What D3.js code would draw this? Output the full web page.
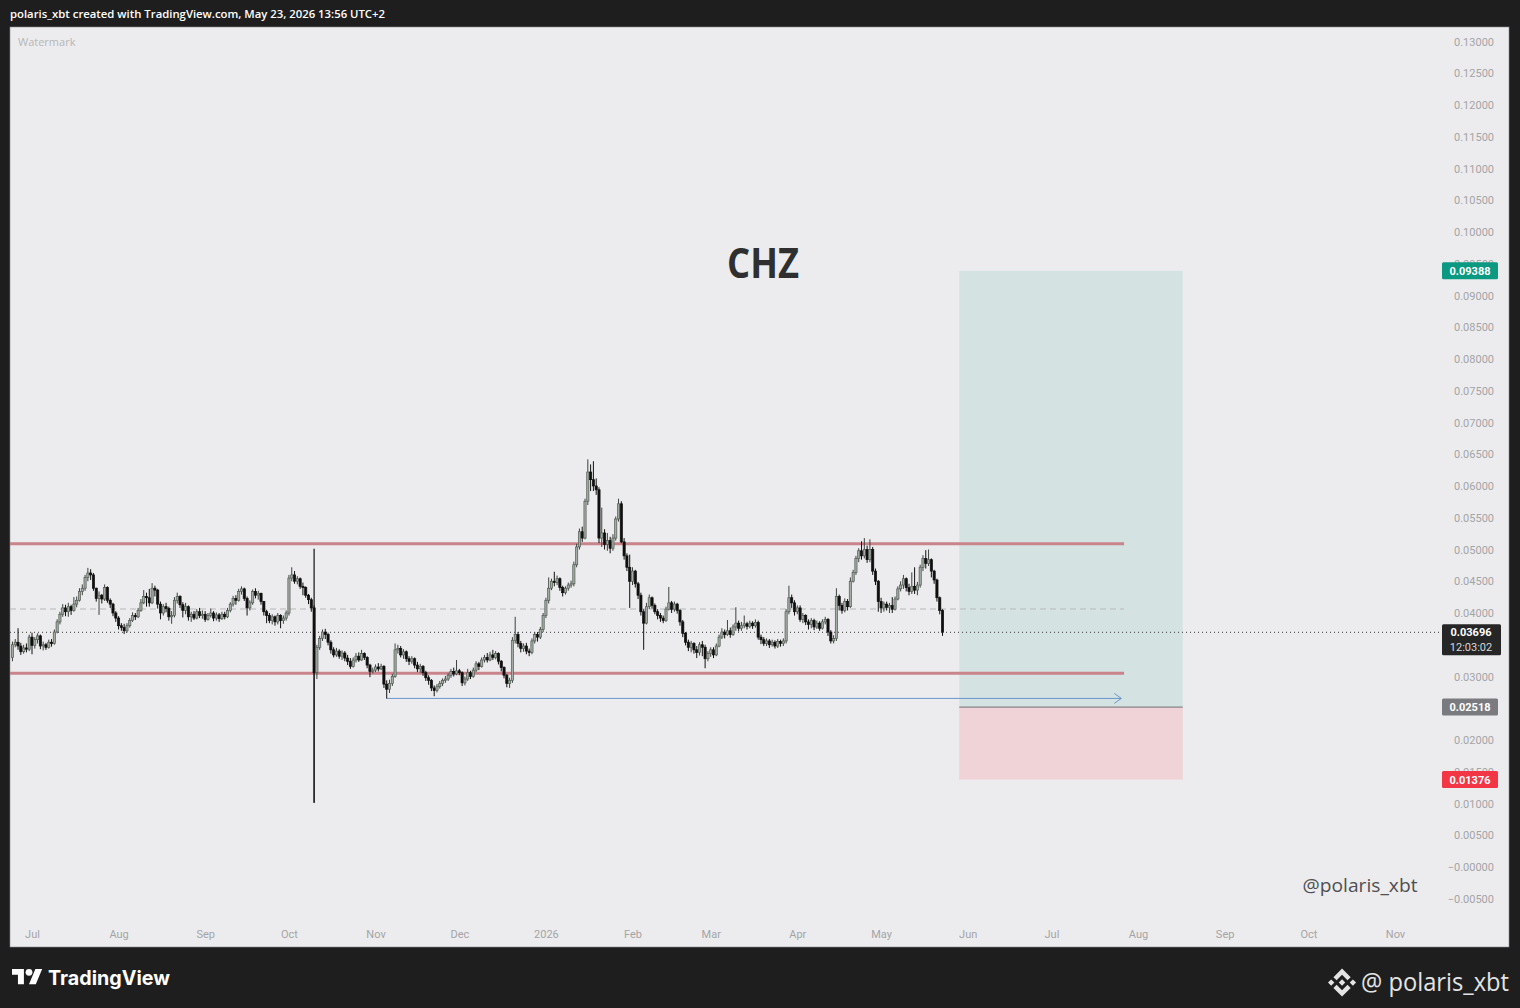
<!DOCTYPE html>
<html>
<head>
<meta charset="utf-8">
<script src="https://cdn.jsdelivr.net/npm/d3@7"></script>
<style>
  body { margin: 0; background: #1e1e1e; }
  svg { display: block; }
</style>
</head>
<body>
<div id="chart"></div>
<script>
// ---- data ----
const firstDay = "2025-06-24";
const firstOpen = 0.0330;

// daily closes, Jun 24 2025 .. May 23 2026
const closes = [
  0.0350,0.0354,0.0348,0.0339,0.0345,0.0343,0.0362,0.0349,0.0358,0.0364,
  0.0348,0.0350,0.0346,0.0354,0.0352,0.0370,0.0386,0.0398,0.0408,0.0402,
  0.0410,0.0404,0.0414,0.0420,0.0434,0.0439,0.0456,0.0463,0.0460,0.0439,
  0.0423,0.0428,0.0422,0.0440,0.0420,0.0414,0.0400,0.0392,0.0380,0.0377,
  0.0372,0.0380,0.0388,0.0396,0.0394,0.0404,0.0416,0.0426,0.0424,0.0416,
  0.0439,0.0436,0.0414,0.0400,0.0410,0.0407,0.0394,0.0396,0.0420,0.0426,
  0.0413,0.0404,0.0410,0.0394,0.0398,0.0392,0.0402,0.0396,0.0398,0.0390,
  0.0396,0.0400,0.0392,0.0397,0.0391,0.0398,0.0394,0.0404,0.0414,0.0423,
  0.0420,0.0434,0.0438,0.0423,0.0408,0.0416,0.0434,0.0428,0.0431,0.0418,
  0.0402,0.0396,0.0388,0.0394,0.0386,0.0396,0.0388,0.0392,0.0400,0.0455,
  0.0460,0.0450,0.0454,0.0442,0.0440,0.0428,0.0421,0.0408,0.0306,0.0346,
  0.0360,0.0370,0.0366,0.0354,0.0342,0.0334,0.0340,0.0332,0.0337,0.0329,
  0.0324,0.0316,0.0326,0.0332,0.0326,0.0336,0.0330,0.0318,0.0308,0.0310,
  0.0315,0.0312,0.0316,0.0288,0.0280,0.0289,0.0300,0.0342,0.0344,0.0334,
  0.0339,0.0328,0.0324,0.0328,0.0318,0.0312,0.0316,0.0306,0.0298,0.0294,
  0.0282,0.0278,0.0284,0.0289,0.0294,0.0296,0.0302,0.0308,0.0304,0.0309,
  0.0306,0.0290,0.0296,0.0306,0.0300,0.0310,0.0320,0.0316,0.0326,0.0330,
  0.0326,0.0334,0.0330,0.0336,0.0324,0.0314,0.0302,0.0289,0.0294,0.0357,
  0.0366,0.0352,0.0344,0.0348,0.0340,0.0338,0.0356,0.0366,0.0362,0.0374,
  0.0396,0.0420,0.0439,0.0450,0.0448,0.0454,0.0440,0.0432,0.0439,0.0444,
  0.0446,0.0476,0.0504,0.0528,0.0518,0.0576,0.0622,0.0610,0.0600,0.0594,
  0.0518,0.0526,0.0508,0.0514,0.0502,0.0518,0.0548,0.0572,0.0512,0.0490,
  0.0472,0.0450,0.0466,0.0446,0.0428,0.0402,0.0384,0.0410,0.0424,0.0412,
  0.0402,0.0396,0.0392,0.0388,0.0406,0.0416,0.0406,0.0414,0.0404,0.0386,
  0.0368,0.0354,0.0346,0.0352,0.0342,0.0338,0.0350,0.0346,0.0328,0.0336,
  0.0342,0.0334,0.0348,0.0362,0.0370,0.0366,0.0372,0.0366,0.0378,0.0384,
  0.0376,0.0380,0.0383,0.0379,0.0384,0.0380,0.0385,0.0362,0.0358,0.0352,
  0.0356,0.0350,0.0354,0.0348,0.0355,0.0352,0.0356,0.0402,0.0424,0.0416,
  0.0402,0.0408,0.0390,0.0396,0.0386,0.0382,0.0388,0.0378,0.0384,0.0376,
  0.0386,0.0390,0.0370,0.0356,0.0360,0.0426,0.0412,0.0404,0.0418,0.0410,
  0.0450,0.0464,0.0486,0.0498,0.0490,0.0500,0.0484,0.0500,0.0466,0.0450,
  0.0418,0.0408,0.0414,0.0409,0.0412,0.0406,0.0422,0.0438,0.0444,0.0454,
  0.0440,0.0434,0.0442,0.0436,0.0444,0.0472,0.0486,0.0478,0.0484,0.0466,
  0.0452,0.0424,0.0404,0.03696
];

const highs = [
  0.0355,0.0359,0.0376,0.0353,0.0350,0.0352,0.0366,0.0369,0.0362,0.0368,
  0.0366,0.0355,0.0353,0.0358,0.0359,0.0374,0.0390,0.0402,0.0414,0.0413,
  0.0416,0.0413,0.0425,0.0426,0.0439,0.0445,0.0460,0.0471,0.0469,0.0463,
  0.0440,0.0434,0.0430,0.0445,0.0442,0.0423,0.0416,0.0403,0.0395,0.0384,
  0.0383,0.0384,0.0392,0.0401,0.0400,0.0408,0.0422,0.0436,0.0432,0.0438,
  0.0447,0.0443,0.0438,0.0418,0.0414,0.0416,0.0410,0.0403,0.0425,0.0432,
  0.0428,0.0417,0.0416,0.0412,0.0402,0.0403,0.0406,0.0408,0.0404,0.0403,
  0.0400,0.0407,0.0403,0.0401,0.0400,0.0402,0.0402,0.0408,0.0417,0.0427,
  0.0428,0.0438,0.0442,0.0440,0.0426,0.0420,0.0437,0.0439,0.0435,0.0432,
  0.0419,0.0405,0.0400,0.0398,0.0396,0.0400,0.0398,0.0396,0.0404,0.0460,
  0.0472,0.0466,0.0458,0.0456,0.0448,0.0442,0.0430,0.0424,0.0412,0.0350,
  0.0364,0.0374,0.0375,0.0369,0.0357,0.0346,0.0345,0.0343,0.0341,0.0340,
  0.0334,0.0329,0.0330,0.0337,0.0338,0.0342,0.0338,0.0332,0.0320,0.0314,
  0.0319,0.0321,0.0320,0.0318,0.0294,0.0295,0.0304,0.0352,0.0350,0.0348,
  0.0343,0.0341,0.0332,0.0332,0.0330,0.0323,0.0320,0.0318,0.0309,0.0302,
  0.0296,0.0286,0.0288,0.0293,0.0297,0.0301,0.0305,0.0312,0.0314,0.0326,
  0.0312,0.0308,0.0300,0.0312,0.0309,0.0314,0.0324,0.0323,0.0330,0.0334,
  0.0337,0.0339,0.0342,0.0340,0.0338,0.0326,0.0316,0.0304,0.0298,0.0362,
  0.0394,0.0370,0.0356,0.0352,0.0353,0.0344,0.0360,0.0370,0.0370,0.0378,
  0.0400,0.0424,0.0456,0.0454,0.0465,0.0459,0.0456,0.0443,0.0442,0.0448,
  0.0451,0.0481,0.0509,0.0533,0.0536,0.0580,0.0642,0.0634,0.0639,0.0612,
  0.0598,0.0566,0.0532,0.0526,0.0520,0.0524,0.0552,0.0580,0.0576,0.0518,
  0.0494,0.0492,0.0472,0.0468,0.0449,0.0432,0.0406,0.0416,0.0429,0.0426,
  0.0415,0.0406,0.0400,0.0396,0.0410,0.0441,0.0419,0.0418,0.0416,0.0406,
  0.0389,0.0370,0.0358,0.0356,0.0354,0.0348,0.0354,0.0356,0.0350,0.0340,
  0.0346,0.0346,0.0352,0.0366,0.0376,0.0374,0.0389,0.0377,0.0382,0.0409,
  0.0388,0.0386,0.0396,0.0386,0.0388,0.0387,0.0390,0.0388,0.0366,0.0362,
  0.0360,0.0359,0.0358,0.0357,0.0359,0.0358,0.0360,0.0406,0.0443,0.0429,
  0.0420,0.0412,0.0412,0.0400,0.0398,0.0390,0.0392,0.0391,0.0388,0.0387,
  0.0390,0.0394,0.0392,0.0373,0.0365,0.0439,0.0429,0.0416,0.0423,0.0422,
  0.0456,0.0468,0.0490,0.0502,0.0513,0.0518,0.0506,0.0516,0.0504,0.0470,
  0.0452,0.0424,0.0418,0.0418,0.0416,0.0425,0.0426,0.0442,0.0450,0.0460,
  0.0456,0.0446,0.0464,0.0472,0.0449,0.0476,0.0491,0.0499,0.0500,0.0486,
  0.0468,0.0454,0.0426,0.0406
];

const lows = [
  0.0324,0.0346,0.0342,0.0334,0.0336,0.0338,0.0340,0.0335,0.0344,0.0352,
  0.0343,0.0341,0.0342,0.0344,0.0347,0.0350,0.0368,0.0382,0.0394,0.0395,
  0.0394,0.0397,0.0402,0.0409,0.0418,0.0428,0.0435,0.0450,0.0452,0.0435,
  0.0418,0.0397,0.0415,0.0419,0.0416,0.0408,0.0395,0.0386,0.0374,0.0372,
  0.0367,0.0369,0.0377,0.0386,0.0389,0.0392,0.0402,0.0414,0.0410,0.0410,
  0.0414,0.0426,0.0407,0.0390,0.0396,0.0401,0.0388,0.0383,0.0393,0.0415,
  0.0408,0.0393,0.0398,0.0388,0.0386,0.0389,0.0390,0.0392,0.0391,0.0386,
  0.0388,0.0393,0.0387,0.0388,0.0386,0.0389,0.0390,0.0392,0.0401,0.0410,
  0.0413,0.0418,0.0429,0.0419,0.0396,0.0404,0.0413,0.0423,0.0421,0.0413,
  0.0396,0.0384,0.0384,0.0382,0.0380,0.0382,0.0376,0.0383,0.0388,0.0396,
  0.0450,0.0446,0.0445,0.0438,0.0428,0.0424,0.0414,0.0402,0.0101,0.0296,
  0.0342,0.0356,0.0359,0.0349,0.0336,0.0330,0.0331,0.0328,0.0326,0.0324,
  0.0318,0.0312,0.0314,0.0322,0.0323,0.0325,0.0326,0.0313,0.0299,0.0305,
  0.0307,0.0308,0.0310,0.0282,0.0265,0.0274,0.0285,0.0298,0.0336,0.0330,
  0.0328,0.0323,0.0318,0.0320,0.0313,0.0307,0.0306,0.0301,0.0293,0.0287,
  0.0277,0.0269,0.0275,0.0281,0.0285,0.0290,0.0293,0.0298,0.0300,0.0302,
  0.0302,0.0285,0.0286,0.0293,0.0296,0.0298,0.0307,0.0310,0.0314,0.0322,
  0.0322,0.0324,0.0326,0.0327,0.0319,0.0308,0.0297,0.0283,0.0282,0.0290,
  0.0352,0.0346,0.0338,0.0339,0.0335,0.0332,0.0335,0.0352,0.0355,0.0359,
  0.0370,0.0392,0.0415,0.0436,0.0442,0.0444,0.0435,0.0426,0.0429,0.0435,
  0.0440,0.0442,0.0472,0.0500,0.0512,0.0516,0.0570,0.0592,0.0592,0.0586,
  0.0510,0.0504,0.0500,0.0498,0.0494,0.0498,0.0514,0.0544,0.0510,0.0484,
  0.0466,0.0408,0.0444,0.0440,0.0422,0.0396,0.0342,0.0382,0.0406,0.0407,
  0.0398,0.0390,0.0386,0.0384,0.0386,0.0404,0.0400,0.0402,0.0399,0.0380,
  0.0362,0.0349,0.0340,0.0338,0.0336,0.0329,0.0333,0.0332,0.0313,0.0324,
  0.0331,0.0329,0.0332,0.0346,0.0359,0.0360,0.0364,0.0361,0.0364,0.0372,
  0.0371,0.0372,0.0376,0.0374,0.0376,0.0375,0.0377,0.0358,0.0351,0.0348,
  0.0348,0.0345,0.0347,0.0344,0.0345,0.0347,0.0348,0.0352,0.0398,0.0408,
  0.0396,0.0398,0.0386,0.0384,0.0381,0.0374,0.0376,0.0373,0.0375,0.0372,
  0.0374,0.0382,0.0364,0.0352,0.0352,0.0356,0.0404,0.0399,0.0401,0.0404,
  0.0408,0.0448,0.0460,0.0480,0.0484,0.0486,0.0479,0.0480,0.0460,0.0444,
  0.0402,0.0400,0.0402,0.0404,0.0400,0.0400,0.0404,0.0420,0.0434,0.0438,
  0.0434,0.0428,0.0430,0.0430,0.0428,0.0440,0.0466,0.0470,0.0474,0.0456,
  0.0446,0.0418,0.0398,0.0364
];

const yTicks = [-0.005, 0, 0.005, 0.010, 0.015, 0.020, 0.025, 0.030, 0.035, 0.040,
  0.045, 0.050, 0.055, 0.060, 0.065, 0.070, 0.075, 0.080, 0.085, 0.090, 0.095,
  0.100, 0.105, 0.110, 0.115, 0.120, 0.125, 0.130];

const monthTicks = ["2025-07-01","2025-08-01","2025-09-01","2025-10-01","2025-11-01",
  "2025-12-01","2026-01-01","2026-02-01","2026-03-01","2026-04-01","2026-05-01",
  "2026-06-01","2026-07-01","2026-08-01","2026-09-01","2026-10-01","2026-11-01"];
const monthLabels = ["Jul","Aug","Sep","Oct","Nov","Dec","2026","Feb","Mar","Apr",
  "May","Jun","Jul","Aug","Sep","Oct","Nov"];

// drawings on the chart
const rangeHigh = 0.0509;
const rangeLow = 0.0305;
const rangeMid = 0.04063;
const rangeEnd = "2026-07-27";
const lastPrice = 0.03696;
const countdown = "12:03:02";
const sweepLine = { from: "2025-11-05", to: "2026-07-26", price: 0.02655 };
const crashLine = { date: "2025-10-10", top: 0.0501, bottom: 0.0101 };
const longPos = { from: "2026-05-29", to: "2026-08-17", target: 0.09388, entry: 0.02518, stop: 0.01376 };

// ---- layout ----
const width = 1520, height = 1008;
const panel = { x: 10, y: 27, w: 1499, h: 920 };
const day = d3.utcParse("%Y-%m-%d");

const x = d3.scaleUtc()
  .domain([day("2025-07-01"), day("2026-11-01")])
  .range([32, 1395]);
const y = d3.scaleLinear().domain([0, 0.13]).range([867, 41.5]);

const candles = closes.map((c, i) => ({
  date: d3.utcDay.offset(day(firstDay), i),
  open: i === 0 ? firstOpen : closes[i - 1],
  close: c,
  high: highs[i],
  low: lows[i],
}));

const svg = d3.select("#chart").append("svg")
  .attr("width", width)
  .attr("height", height);

// header line
svg.append("text")
  .attr("x", 10).attr("y", 18)
  .attr("fill", "#ffffff")
  .style("font", "600 11.5px 'Open Sans', sans-serif")
  .attr("textLength", 375).attr("lengthAdjust", "spacingAndGlyphs")
  .text("polaris_xbt created with TradingView.com, May 23, 2026 13:56 UTC+2");

// chart panel
svg.append("rect")
  .attr("x", panel.x).attr("y", panel.y)
  .attr("width", panel.w).attr("height", panel.h)
  .attr("fill", "#ececee")
  .attr("stroke", "#8a8a8a").attr("stroke-width", 0.6);

svg.append("defs").append("clipPath").attr("id", "plot")
  .append("rect")
  .attr("x", panel.x).attr("y", panel.y)
  .attr("width", 1432).attr("height", panel.h);

const plot = svg.append("g").attr("clip-path", "url(#plot)");

svg.append("text")
  .attr("x", 18).attr("y", 46)
  .attr("fill", "#b6b6b8")
  .style("font", "11px 'Open Sans', sans-serif")
  .text("Watermark");

// long position box
const lx0 = x(day(longPos.from)), lx1 = x(day(longPos.to));
plot.append("rect")
  .attr("x", lx0).attr("y", y(longPos.target))
  .attr("width", lx1 - lx0).attr("height", y(longPos.entry) - y(longPos.target))
  .attr("fill", "#d4e3e2");
plot.append("rect")
  .attr("x", lx0).attr("y", y(longPos.entry))
  .attr("width", lx1 - lx0).attr("height", y(longPos.stop) - y(longPos.entry))
  .attr("fill", "#efd3d7");
plot.append("line")
  .attr("x1", lx0).attr("x2", lx1)
  .attr("y1", y(longPos.entry)).attr("y2", y(longPos.entry))
  .attr("stroke", "#6e6e72").attr("stroke-width", 1);

// range mid (dashed) and last price (dotted)
const xEnd = x(day(rangeEnd));
plot.append("line")
  .attr("x1", panel.x).attr("x2", xEnd)
  .attr("y1", y(rangeMid)).attr("y2", y(rangeMid))
  .attr("stroke", "#b8b8ba").attr("stroke-width", 1)
  .attr("stroke-dasharray", "6 4");
plot.append("line")
  .attr("x1", panel.x).attr("x2", 1442)
  .attr("y1", y(lastPrice)).attr("y2", y(lastPrice))
  .attr("stroke", "#3a3a3a").attr("stroke-width", 1)
  .attr("stroke-dasharray", "1 3");

// range high / low
plot.selectAll("line.range")
  .data([rangeHigh, rangeLow])
  .join("line")
  .attr("class", "range")
  .attr("x1", panel.x).attr("x2", xEnd)
  .attr("y1", (d) => y(d)).attr("y2", (d) => y(d))
  .attr("stroke", "#c9838b").attr("stroke-width", 3);

// candles
const bw = 2.2;
plot.selectAll("line.wick")
  .data(candles)
  .join("line")
  .attr("class", "wick")
  .attr("x1", (d) => x(d.date)).attr("x2", (d) => x(d.date))
  .attr("y1", (d) => y(d.high)).attr("y2", (d) => y(d.low))
  .attr("stroke", (d) => (d.close >= d.open ? "#3c423d" : "#111111"))
  .attr("stroke-width", 1);

plot.selectAll("rect.body")
  .data(candles)
  .join("rect")
  .attr("class", "body")
  .attr("x", (d) => x(d.date) - bw / 2)
  .attr("y", (d) => y(Math.max(d.open, d.close)))
  .attr("width", bw)
  .attr("height", (d) => Math.max(1, Math.abs(y(d.open) - y(d.close))))
  .attr("fill", (d) => (d.close >= d.open ? "#a3aba4" : "#0f0f0f"))
  .attr("stroke", (d) => (d.close >= d.open ? "#535c55" : "#0f0f0f"))
  .attr("stroke-width", 0.7);

// Oct 10 vertical line
plot.append("line")
  .attr("x1", x(day(crashLine.date))).attr("x2", x(day(crashLine.date)))
  .attr("y1", y(crashLine.top)).attr("y2", y(crashLine.bottom))
  .attr("stroke", "#111").attr("stroke-width", 1.2);

// sweep arrow
const sx0 = x(day(sweepLine.from)), sx1 = x(day(sweepLine.to)), sy = y(sweepLine.price);
plot.append("line")
  .attr("x1", sx0).attr("x2", sx1)
  .attr("y1", sy).attr("y2", sy)
  .attr("stroke", "#6a95cc").attr("stroke-width", 1);
plot.append("path")
  .attr("d", `M${sx1 - 7},${sy - 5}L${sx1},${sy}L${sx1 - 7},${sy + 5}`)
  .attr("fill", "none")
  .attr("stroke", "#6a95cc").attr("stroke-width", 1);

// titles
svg.append("text")
  .attr("x", 763).attr("y", 278)
  .attr("text-anchor", "middle")
  .attr("fill", "#2f2f2f")
  .style("font", "bold 41px 'Open Sans', sans-serif")
  .attr("textLength", 72).attr("lengthAdjust", "spacingAndGlyphs")
  .text("CHZ");

svg.append("text")
  .attr("x", 1360).attr("y", 892)
  .attr("text-anchor", "middle")
  .attr("fill", "#4f4f51")
  .style("font", "19px 'Open Sans', sans-serif")
  .attr("textLength", 115).attr("lengthAdjust", "spacingAndGlyphs")
  .text("@polaris_xbt");

// price tags (drawn on the axis, they hide the labels they sit on)
const tags = [
  { price: longPos.target, fill: "#0b9981", top: -8.5, h: 17 },
  { price: longPos.entry, fill: "#7a7b7e", top: -8.5, h: 17 },
  { price: longPos.stop, fill: "#f23645", top: -8.5, h: 17 },
  { price: lastPrice, fill: "#262626", top: -8, h: 31 },
];
const hidden = (t) => tags.some((g) => {
  const c = y(t) - y(g.price);
  return c > g.top + 3 && c < g.top + g.h - 3;
});

// price axis
const fmt = d3.format(".5f");
const yAxis = svg.append("g")
  .attr("transform", "translate(1494,0)")
  .call(
    d3.axisLeft(y)
      .tickValues(yTicks.filter((t) => !hidden(t)))
      .tickSize(0)
      .tickPadding(0)
      .tickFormat((d) => (d === 0 ? "\u22120.00000" : fmt(d)))
  );
yAxis.select(".domain").remove();
yAxis.selectAll("text")
  .attr("fill", "#a4a4a6")
  .style("font", "11px Roboto, sans-serif");

// time axis
const xAxis = svg.append("g")
  .attr("transform", "translate(0,930)")
  .call(
    d3.axisBottom(x)
      .tickValues(monthTicks.map(day))
      .tickSize(0)
      .tickPadding(0)
      .tickFormat((d, i) => monthLabels[i])
  );
xAxis.select(".domain").remove();
xAxis.selectAll("text")
  .attr("fill", "#a4a4a6")
  .style("font", "11px Roboto, sans-serif");

const tagG = svg.selectAll("g.tag")
  .data(tags.slice(0, 3))
  .join("g")
  .attr("class", "tag")
  .attr("transform", (d) => `translate(1442,${y(d.price)})`);
tagG.append("rect")
  .attr("x", 0).attr("y", (d) => d.top)
  .attr("width", 56).attr("height", (d) => d.h)
  .attr("rx", 1.5)
  .attr("fill", (d) => d.fill);
tagG.append("text")
  .attr("x", 28).attr("y", 4)
  .attr("text-anchor", "middle")
  .attr("fill", "#ffffff")
  .style("font", "bold 11px Roboto, sans-serif")
  .text((d) => fmt(d.price));

const lastTag = tags[3];
const lastG = svg.append("g")
  .attr("transform", `translate(1442,${y(lastPrice)})`);
lastG.append("rect")
  .attr("x", 0).attr("y", lastTag.top)
  .attr("width", 59).attr("height", lastTag.h)
  .attr("rx", 1.5)
  .attr("fill", lastTag.fill);
lastG.append("text")
  .attr("x", 29).attr("y", 4)
  .attr("text-anchor", "middle")
  .attr("fill", "#ffffff")
  .style("font", "bold 11px Roboto, sans-serif")
  .text(fmt(lastPrice));
lastG.append("text")
  .attr("x", 29).attr("y", 19)
  .attr("text-anchor", "middle")
  .attr("fill", "#d8d8d8")
  .style("font", "11px Roboto, sans-serif")
  .text(countdown);

// footer: TradingView logo
const tv = svg.append("g").attr("transform", "translate(12,965.5) scale(0.85)");
tv.append("path")
  .attr("d", "M14 22H7V11H0V4h14v18zM28 22h-8l7.5-18h8L28 22z")
  .attr("fill", "#ffffff");
tv.append("circle").attr("cx", 20).attr("cy", 8).attr("r", 4).attr("fill", "#ffffff");
svg.append("text")
  .attr("x", 48).attr("y", 985)
  .attr("fill", "#ffffff")
  .style("font", "bold 20px Inter, 'Open Sans', sans-serif")
  .attr("textLength", 122).attr("lengthAdjust", "spacingAndGlyphs")
  .text("TradingView");

// footer: author handle with diamond mark
const bn = svg.append("g").attr("transform", "translate(1328,968.5) scale(0.222)");
bn.selectAll("path")
  .data([
    "M38.7,53.2L63.3,28.6L87.9,53.2L102.2,38.9L63.3,0L24.4,38.9Z",
    "M0,63.3L14.3,49L28.6,63.3L14.3,77.6Z",
    "M38.7,73.4L63.3,98L87.9,73.4L102.2,87.7L63.3,126.6L24.4,87.7Z",
    "M98,63.3L112.3,49L126.6,63.3L112.3,77.6Z",
    "M77.8,63.3L63.3,48.8L48.8,63.3L63.3,77.8Z",
  ])
  .join("path")
  .attr("d", (d) => d)
  .attr("fill", "#e4e4e4");
svg.append("text")
  .attr("x", 1361).attr("y", 991)
  .attr("fill", "#e4e4e4")
  .style("font", "25px 'Open Sans', sans-serif")
  .attr("textLength", 148).attr("lengthAdjust", "spacingAndGlyphs")
  .text("@ polaris_xbt");
</script>
</body>
</html>
